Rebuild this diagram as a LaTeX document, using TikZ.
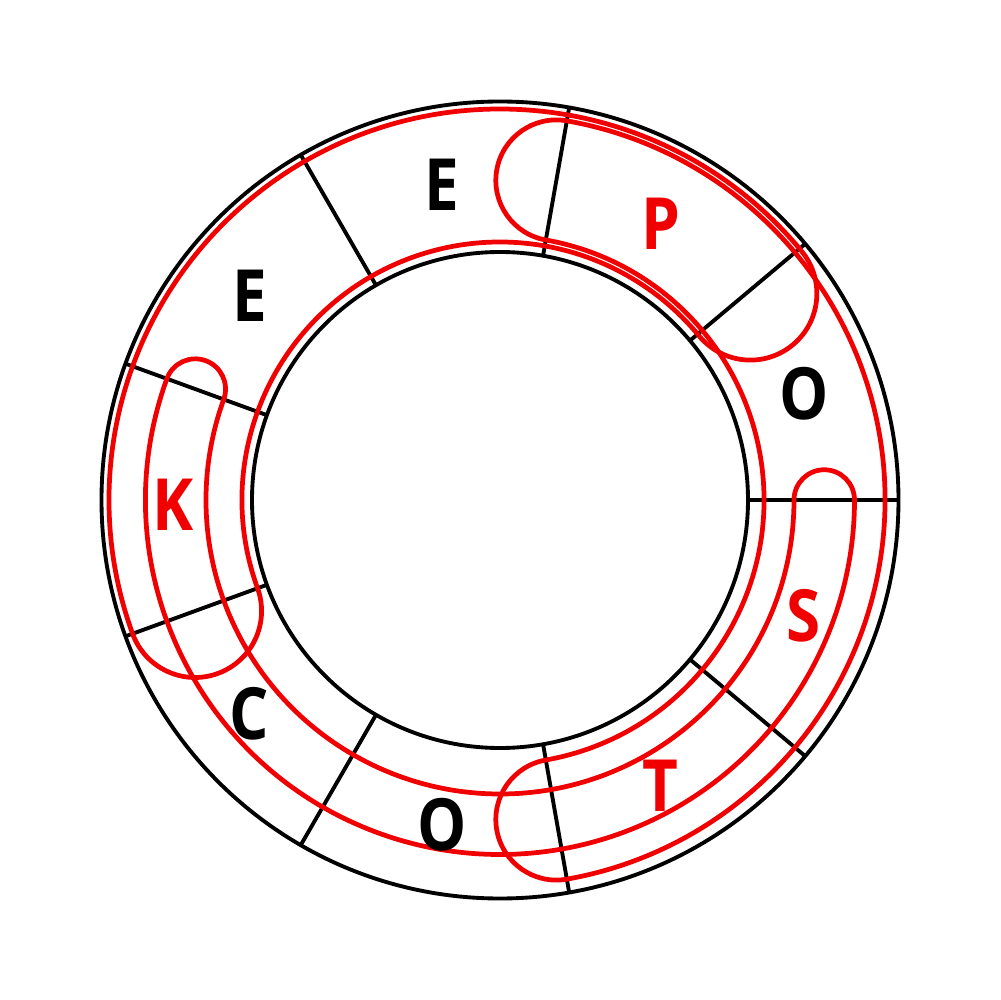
\documentclass[tikz,border=0pt]{standalone}
\usepackage{fontspec}
\newfontfamily\letterfont[FakeStretch=0.86]{Open Sans}
\definecolor{loopred}{RGB}{240,0,0}
\begin{document}
\begin{tikzpicture}[x=0.02cm,y=0.02cm,
  ring/.style={draw=black,line width=2.2pt},
  loopline/.style={draw=loopred,line width=2.7pt,line join=round},
  letter/.style={inner sep=0pt,font=\letterfont\bfseries\fontsize{41}{41}\selectfont},
  blackletter/.style={letter,text=black},
  redletter/.style={letter,text=loopred}]
\useasboundingbox (-500,-500) rectangle (500,500);
\fill[white] (-500,-500) rectangle (500,500);
% ring
\draw[ring] (0,0) circle[radius=398.5];
\draw[ring] (0,0) circle[radius=248];
\foreach \a in {0,40,...,320} \draw[ring] (\a:248) -- (\a:398.5);
% KEEP loop
\draw[loopline] (39.5:391) arc[start angle=39.5,end angle=200,radius=391]
  arc[start angle=200,end angle=380,radius=66.5]
  arc[start angle=200,end angle=39.5,radius=258]
  arc[start angle=219.5,end angle=399.5,radius=66.5] -- cycle;
% POST loop
\draw[loopline] (80:385) arc[start angle=80,end angle=-80,radius=385]
  arc[start angle=-80,end angle=-260,radius=60.5]
  arc[start angle=-80,end angle=80,radius=264]
  arc[start angle=260,end angle=80,radius=60.5] -- cycle;
% STOCK loop
\draw[loopline] (160:354.5) arc[start angle=160,end angle=360,radius=354.5]
  arc[start angle=0,end angle=180,radius=30.25]
  arc[start angle=360,end angle=160,radius=294]
  arc[start angle=340,end angle=520,radius=30.25] -- cycle;
% letters
\begin{scope}[shift={(-1.6,-4.8)}]
\node[redletter]   (lP)  at (60:325)  {P};
\node[blackletter] (lOa) at (20:325)  {O};
\node[redletter]   (lS)  at (340:325) {S};
\node[redletter]   (lT)  at (300:325) {T};
\node[blackletter] (lOb) at (260:325) {O};
\node[blackletter] (lC)  at (220:325) {C};
\node[redletter]   (lK)  at (180:325) {K};
\node[blackletter] (lEa) at (140:325) {E};
\node[blackletter] (lEb) at (100:325) {E};
\end{scope}
\end{tikzpicture}
\end{document}
